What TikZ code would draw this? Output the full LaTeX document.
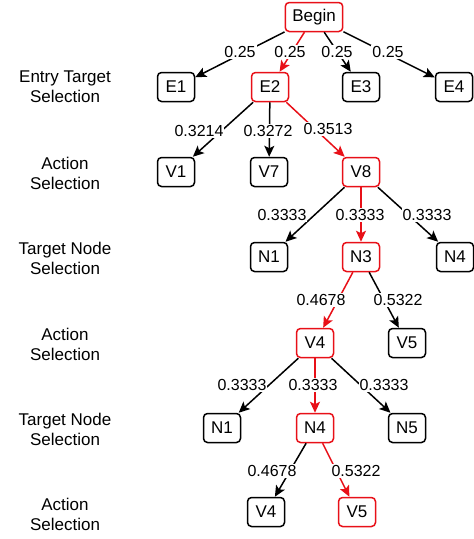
\documentclass[tikz,border=0pt]{standalone}
\usepackage{fontspec}
\setmainfont{Liberation Sans}
\usetikzlibrary{arrows.meta}
\definecolor{hl}{RGB}{232,16,24}
\tikzset{
  box/.style={draw=black, line width=1.5pt, rounded corners=4pt, minimum width=37pt, minimum height=29pt, inner xsep=7pt, inner ysep=0pt, font=\fontsize{17}{20}\selectfont, fill=white},
  hbox/.style={box, draw=hl},
  arr/.style={line width=1.5pt, -{Stealth[length=11pt,width=10pt,inset=2.5pt]}},
  harr/.style={arr, draw=hl, fill=hl},
  lbl/.style={fill=white, inner sep=1pt, font=\fontsize{16}{19}\selectfont},
  side/.style={align=center, font=\fontsize{17}{20}\selectfont}
}
\begin{document}
\begin{tikzpicture}[x=1pt,y=-1pt]
\useasboundingbox (0,0) rectangle (474,539);
% nodes
\node[hbox] (Begin) at (314,17) {Begin};
\node[box] (E1) at (176,87) {E1};
\node[hbox] (E2) at (270,87) {E2};
\node[box] (E3) at (361,87) {E3};
\node[box] (E4) at (454,87) {E4};
\node[box] (V1) at (176,172) {V1};
\node[box] (V7) at (269,172) {V7};
\node[hbox] (V8) at (361,172) {V8};
\node[box] (N1a) at (269,257) {N1};
\node[hbox] (N3) at (361,257) {N3};
\node[box] (N4a) at (455,257) {N4};
\node[hbox] (V4a) at (315,343) {V4};
\node[box] (V5a) at (407,343) {V5};
\node[box] (N1b) at (222,428) {N1};
\node[hbox] (N4b) at (315,428) {N4};
\node[box] (N5) at (407,428) {N5};
\node[box] (V4b) at (266,512) {V4};
\node[hbox] (V5b) at (357,512) {V5};
% side labels
\node[side] (s1) at (65,87) {Entry Target\\Selection};
\node[side] (s2) at (65,173) {Action\\Selection};
\node[side] (s3) at (65,258) {Target Node\\Selection};
\node[side] (s4) at (65,344) {Action\\Selection};
\node[side] (s5) at (65,429) {Target Node\\Selection};
\node[side] (s6) at (65,514) {Action\\Selection};
% edges
\draw[arr] (Begin) -- (E1);
\draw[harr] (Begin) -- (E2);
\draw[arr] (Begin) -- (E3);
\draw[arr] (Begin) -- (E4);
\draw[arr] (E2) -- (V1);
\draw[arr] (E2) -- (V7);
\draw[harr] (E2) -- (V8);
\draw[arr] (V8) -- (N1a);
\draw[harr] (V8) -- (N3);
\draw[arr] (V8) -- (N4a);
\draw[harr] (N3) -- (V4a);
\draw[arr] (N3) -- (V5a);
\draw[arr] (V4a) -- (N1b);
\draw[harr] (V4a) -- (N4b);
\draw[arr] (V4a) -- (N5);
\draw[arr] (N4b) -- (V4b);
\draw[harr] (N4b) -- (V5b);
% edge labels
\node[lbl] (l1) at (240,52) {0.25};
\node[lbl] (l2) at (290,52) {0.25};
\node[lbl] (l3) at (337,52) {0.25};
\node[lbl] (l4) at (388,52) {0.25};
\node[lbl] (l5) at (199,131) {0.3214};
\node[lbl] (l6) at (268,131) {0.3272};
\node[lbl] (l7) at (328,129) {0.3513};
\node[lbl] (l8) at (282,215) {0.3333};
\node[lbl] (l9) at (360,215) {0.3333};
\node[lbl] (l10) at (427,215) {0.3333};
\node[lbl] (l11) at (321,300) {0.4678};
\node[lbl] (l12) at (398,300) {0.5322};
\node[lbl] (l13) at (242,385) {0.3333};
\node[lbl] (l14) at (313,385) {0.3333};
\node[lbl] (l15) at (384,385) {0.3333};
\node[lbl] (l16) at (272,471) {0.4678};
\node[lbl] (l17) at (356,471) {0.5322};
\end{tikzpicture}
\end{document}
